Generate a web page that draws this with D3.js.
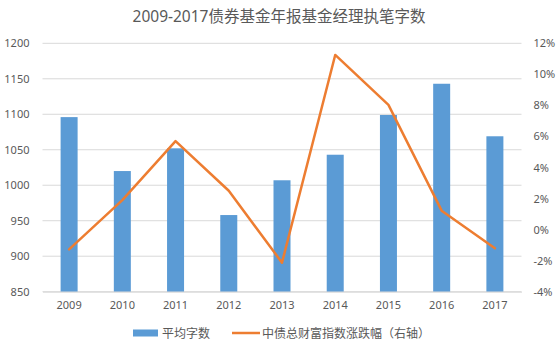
<!DOCTYPE html>
<html>
<head>
<meta charset="utf-8">
<script src="https://cdn.jsdelivr.net/npm/d3@7"></script>
<style>
  html, body { margin: 0; padding: 0; background: #fff; }
  svg { display: block; font-family: "Noto Sans", "Noto Sans CJK SC", "DejaVu Sans", sans-serif; }
</style>
</head>
<body>
<svg id="chart" width="560" height="349"></svg>
<script>
// Yearly data
const years = ["2009", "2010", "2011", "2012", "2013", "2014", "2015", "2016", "2017"];
const avgWords = [1096, 1020, 1052, 958, 1007, 1043, 1099, 1143, 1069];
const indexChange = [-1.27, 1.9, 5.7, 2.5, -2.13, 11.25, 8.03, 1.22, -1.2];

const leftTicks = [850, 900, 950, 1000, 1050, 1100, 1150, 1200];
const rightTicks = [-4, -2, 0, 2, 4, 6, 8, 10, 12];

const titleText = "2009-2017债券基金年报基金经理执笔字数";
const legendBar = "平均字数";
const legendLine = "中债总财富指数涨跌幅（右轴）";

const svg = d3.select("#chart");
const W = 560, H = 349;
const m = { left: 42.5, right: 38.5, top: 43.3, bottom: 57.3 };
const textColor = "#595959";

const x = d3.scaleBand().domain(years).range([m.left, W - m.right]).paddingInner(0).paddingOuter(0);
const yL = d3.scaleLinear().domain([850, 1200]).range([H - m.bottom, m.top]);
const yR = d3.scaleLinear().domain([-4, 12]).range([H - m.bottom, m.top]);

// Title
svg.append("text")
  .attr("x", 279).attr("y", 22)
  .attr("text-anchor", "middle")
  .attr("fill", textColor)
  .style("font-size", "15.5px")
  .text(titleText);

// Gridlines
svg.append("g").selectAll("line")
  .data(leftTicks)
  .join("line")
  .attr("x1", m.left).attr("x2", W - m.right)
  .attr("y1", d => yL(d)).attr("y2", d => yL(d))
  .attr("stroke", "#d9d9d9").attr("stroke-width", 1);

// Left axis labels
const axL = svg.append("g").attr("transform", `translate(${m.left - 13},0)`)
  .call(d3.axisLeft(yL).tickValues(leftTicks).tickSize(0).tickPadding(0).tickFormat(d3.format("d")));
axL.select(".domain").remove();
axL.selectAll("text").attr("fill", textColor).style("font-size", "11px").style("font-family", null);

// Right axis labels
const axR = svg.append("g").attr("transform", `translate(${W - m.right + 12},0)`)
  .call(d3.axisRight(yR).tickValues(rightTicks).tickSize(0).tickPadding(0).tickFormat(d => d + "%"));
axR.select(".domain").remove();
axR.selectAll("text").attr("fill", textColor).style("font-size", "11px");

// Bars
const barW = 17;
svg.append("g").selectAll("rect")
  .data(years.map((y, i) => ({ y, v: avgWords[i] })))
  .join("rect")
  .attr("x", d => x(d.y) + x.bandwidth() / 2 - barW / 2)
  .attr("width", barW)
  .attr("y", d => yL(d.v))
  .attr("height", d => yL(850) - yL(d.v))
  .attr("fill", "#5B9BD5");

// Bottom axis
const axB = svg.append("g").attr("transform", `translate(0,${H - m.bottom})`)
  .call(d3.axisBottom(x).tickSize(0).tickPadding(10));
axB.select(".domain").attr("stroke", "#d9d9d9");
axB.selectAll("text").attr("fill", textColor).style("font-size", "11px");

// Remove D3's default axis font so the svg font stack applies
svg.selectAll("g").attr("font-family", null);

// Line (right axis)
const line = d3.line()
  .x((d, i) => x(years[i]) + x.bandwidth() / 2)
  .y(d => yR(d));
svg.append("path")
  .datum(indexChange)
  .attr("d", line)
  .attr("fill", "none")
  .attr("stroke", "#ED7D31")
  .attr("stroke-width", 2.5)
  .attr("stroke-linejoin", "round")
  .attr("stroke-linecap", "round");

// Legend
const lg = svg.append("g").attr("transform", "translate(0,333)");
lg.append("rect").attr("x", 133).attr("y", -3.5).attr("width", 25).attr("height", 7).attr("fill", "#5B9BD5");
lg.append("text").attr("x", 162).attr("y", 4.5).attr("fill", textColor).style("font-size", "12px").text(legendBar);
lg.append("line").attr("x1", 232).attr("x2", 260).attr("y1", 0).attr("y2", 0)
  .attr("stroke", "#ED7D31").attr("stroke-width", 2.5);
lg.append("text").attr("x", 262).attr("y", 4.5).attr("fill", textColor).style("font-size", "12px").text(legendLine);
</script>
</body>
</html>
